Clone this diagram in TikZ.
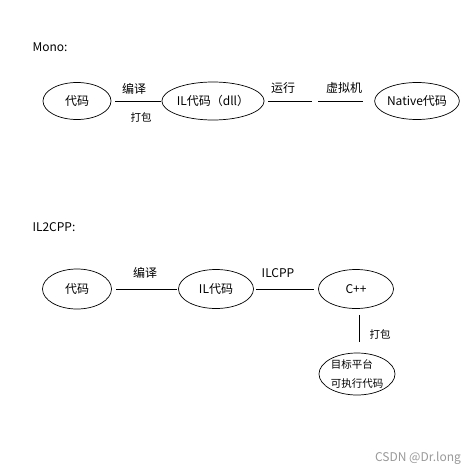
\documentclass[tikz,border=0pt]{standalone}
\usepackage{fontspec}
\setmainfont{Noto Sans CJK SC}
\usepackage{tikz}
\usetikzlibrary{shapes.geometric}

\begin{document}
\begin{tikzpicture}[x=1pt,y=-1pt,
    stage/.style={draw,ellipse,line width=0.7pt,inner sep=0pt,font=\fontsize{12}{14}\selectfont},
    lbl/.style={font=\fontsize{12}{14}\selectfont},
    link/.style={line width=0.7pt,shorten <=4pt,shorten >=1pt}]
    \useasboundingbox[fill=white] (0,0) rectangle (474,474);

    % Mono pipeline
    \node[lbl,anchor=west] (monotitle) at (29,47) {Mono:};
    \node[stage,minimum width=68pt,minimum height=37pt] (mcode) at (77,101) {代码};
    \node[stage,minimum width=80pt,minimum height=38pt] (mil) at (213,101) {IL代码（dll）};
    \node[stage,minimum width=75pt,minimum height=37pt] (mnat) at (417,101) {Native代码};
    \coordinate (mgap) at (315,101);

    \draw[link] (mcode) -- (mil);
    \draw[link,shorten >=3pt] (mil) -- (mgap);
    \draw[link,shorten <=3pt,shorten >=11pt] (mgap) -- (mnat);

    % Labels
    \node[lbl] (mcompile) at (134,89) {编译};
    \node[lbl,font=\fontsize{10.5}{12}\selectfont] (mpack) at (141,117) {打包};
    \node[lbl] (mrun) at (283,88) {运行};
    \node[lbl] (mvm) at (344,88) {虚拟机};

    % IL2CPP pipeline
    \node[lbl,anchor=west] (iltitle) at (29,227) {IL2CPP:};
    \node[stage,minimum width=69pt,minimum height=40pt] (icode) at (77,289) {代码};
    \node[stage,minimum width=75pt,minimum height=39pt] (iil) at (216,289) {IL代码};
    \node[stage,minimum width=75pt,minimum height=39pt] (icpp) at (356,289) {C++};
    \node[stage,minimum width=76pt,minimum height=42pt,align=left,
          font=\fontsize{10.5}{19}\selectfont] (target) at (357,374) {目标平台\\可执行代码};

    \draw[link] (icode) -- (iil);
    \draw[link,shorten <=2pt,shorten >=4pt] (iil) -- (icpp);
    \draw[link,shorten <=6pt,shorten >=11pt] ([xshift=3pt]icpp.south) -- ([xshift=3pt]icpp.south |- target.north);

    % Labels
    \node[lbl] (icompile) at (145,273) {编译};
    \node[lbl] (ilcpp) at (278,273) {ILCPP};
    \node[lbl,font=\fontsize{10.5}{12}\selectfont] (ipack) at (380,334) {打包};

    \node[lbl,text=black!40] (mark) at (418,458) {CSDN @Dr.long};
\end{tikzpicture}
\end{document}
